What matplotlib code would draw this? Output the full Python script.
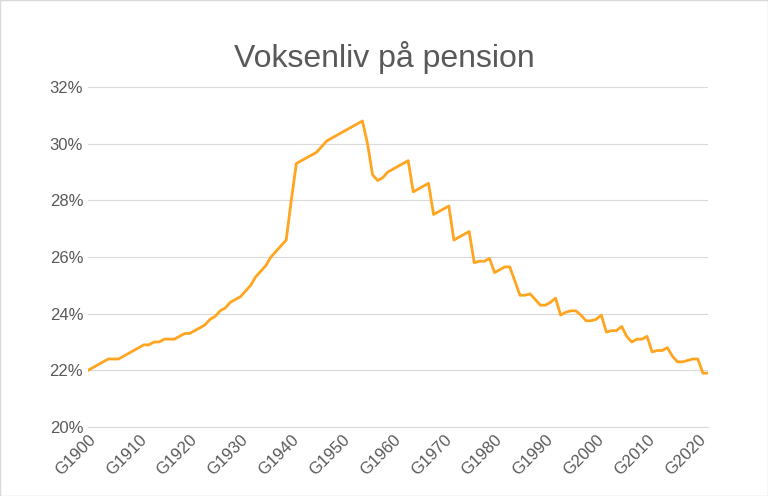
import matplotlib.pyplot as plt
from matplotlib.ticker import PercentFormatter
from matplotlib.transforms import ScaledTranslation

plt.rcParams["font.family"] = ["Liberation Sans", "DejaVu Sans"]

years = list(range(1900, 2023))
values = [
    22.0, 22.1, 22.2, 22.3, 22.4, 22.4, 22.4, 22.5, 22.6, 22.7,
    22.8, 22.9, 22.9, 23.0, 23.0, 23.1, 23.1, 23.1, 23.2, 23.3,
    23.3, 23.4, 23.5, 23.6, 23.8, 23.9, 24.1, 24.2, 24.4, 24.5,
    24.6, 24.8, 25.0, 25.3, 25.5, 25.7, 26.0, 26.2, 26.4, 26.6,
    28.0, 29.3, 29.4, 29.5, 29.6, 29.7, 29.9, 30.1, 30.2, 30.3,
    30.4, 30.5, 30.6, 30.7, 30.8, 30.0, 28.9, 28.7, 28.8, 29.0,
    29.1, 29.2, 29.3, 29.4, 28.3, 28.4, 28.5, 28.6, 27.5, 27.6,
    27.7, 27.8, 26.6, 26.7, 26.8, 26.9, 25.8, 25.85, 25.85, 25.95,
    25.45, 25.55, 25.65, 25.65, 25.15, 24.65, 24.65, 24.7, 24.5, 24.3,
    24.3, 24.4, 24.55, 23.95, 24.05, 24.1, 24.1, 23.95, 23.75, 23.75,
    23.8, 23.95, 23.35, 23.4, 23.4, 23.55, 23.2, 23.0, 23.1, 23.1,
    23.2, 22.65, 22.7, 22.7, 22.8, 22.5, 22.3, 22.3, 22.35, 22.4,
    22.4, 21.9, 21.9,
]
labels = [f"G{y}" for y in years]

gray = "#595959"
fig = plt.figure(figsize=(7.68, 4.96), dpi=100)
ax = fig.add_axes([88 / 768, 69 / 496, 620 / 768, 340 / 496])
x = range(len(values))
ax.plot(x, values, color="#FFA51F", linewidth=2)
ax.set_xlim(0, len(values) - 1)
ax.set_ylim(20, 32)
ax.set_yticks(range(20, 33, 2))
ax.yaxis.set_major_formatter(PercentFormatter(decimals=0))
ax.set_xticks(list(x)[::10])
ax.set_xticklabels(labels[::10], rotation=45, ha="right", rotation_mode="anchor")
shift = ScaledTranslation(6 / 100, 0, fig.dpi_scale_trans)
for lab in ax.get_xticklabels():
    lab.set_transform(lab.get_transform() + shift)
ax.tick_params(colors=gray, labelsize=12, length=0)
ax.grid(axis="y", color="#D9D9D9", linewidth=0.8)
for s in ["top", "right", "left"]:
    ax.spines[s].set_visible(False)
ax.spines["bottom"].set_color("#D9D9D9")
fig.text(0.5, 0.865, "Voksenliv på pension", ha="center", fontsize=23, color=gray)
fig.patches.append(plt.Rectangle((0, 0), 1, 1, transform=fig.transFigure,
                                 fill=False, edgecolor="#D9D9D9", linewidth=1))
fig.savefig("out.png", dpi=100)
